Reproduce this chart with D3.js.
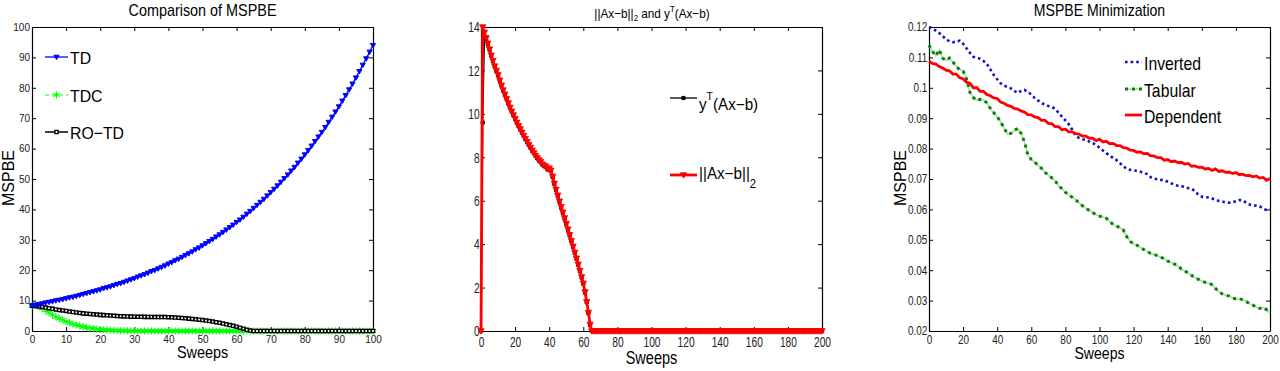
<!DOCTYPE html>
<html>
<head>
<meta charset="utf-8">
<script src="https://cdn.jsdelivr.net/npm/d3@7"></script>
<style>
  body { margin: 0; background: #fff; }
  svg { display: block; font-family: "Liberation Sans", Arial, sans-serif; }
  text { white-space: pre; }
</style>
</head>
<body>
<svg id="chart" width="1280" height="371"></svg>
<script>
// ---- panel 1: Comparison of MSPBE (sweeps 0..100) ----
const sweeps100 = d3.range(0, 101);
const tdValues = [
  8.4, 8.6, 8.8, 9.0, 9.3, 9.5, 9.7, 10.0, 10.2, 10.4,
  10.7, 11.0, 11.2, 11.5, 11.8, 12.1, 12.4, 12.7, 13.0, 13.3,
  13.6, 14.0, 14.3, 14.6, 15.0, 15.4, 15.7, 16.1, 16.5, 16.9,
  17.3, 17.8, 18.2, 18.6, 19.1, 19.6, 20.0, 20.5, 21.0, 21.5,
  22.1, 22.6, 23.2, 23.7, 24.3, 24.9, 25.5, 26.1, 26.8, 27.4,
  28.1, 28.8, 29.5, 30.2, 31.0, 31.7, 32.5, 33.3, 34.1, 34.9,
  35.8, 36.6, 37.5, 38.5, 39.4, 40.4, 41.4, 42.4, 43.4, 44.5,
  45.6, 46.7, 47.8, 49.0, 50.2, 51.4, 52.7, 53.9, 55.3, 56.6,
  58.0, 59.4, 60.9, 62.4, 63.9, 65.4, 67.0, 68.7, 70.4, 72.1,
  73.8, 75.7, 77.5, 79.4, 81.3, 83.3, 85.4, 87.5, 89.6, 91.8,
  94.0
];
const tdcValues = [
  8.3, 8.4, 8.1, 7.5, 6.8, 6.0, 5.3, 4.7, 4.1, 3.6,
  3.1, 2.7, 2.3, 2.0, 1.7, 1.4, 1.15, 0.95, 0.8, 0.65,
  0.52, 0.42, 0.34, 0.27, 0.21, 0.16, 0.12, 0.09, 0.07, 0.05,
  0.04, 0.03, 0.02, 0.02, 0.01, 0.01, 0.01, 0, 0, 0,
  0, 0, 0, 0, 0, 0, 0, 0, 0, 0,
  0, 0, 0, 0, 0, 0, 0, 0, 0, 0,
  0, 0, 0, 0, 0, 0, 0, 0, 0, 0,
  0, 0, 0, 0, 0, 0, 0, 0, 0, 0,
  0, 0, 0, 0, 0, 0, 0, 0, 0, 0,
  0, 0, 0, 0, 0, 0, 0, 0, 0, 0,
  0
];
const rotdValues = [
  8.3, 8.2, 8.1, 7.9, 7.7, 7.5, 7.3, 7.1, 6.9, 6.75,
  6.6, 6.4, 6.25, 6.1, 5.95, 5.8, 5.7, 5.6, 5.5, 5.4,
  5.3, 5.22, 5.15, 5.08, 5.0, 4.93, 4.87, 4.82, 4.77, 4.73,
  4.7, 4.68, 4.66, 4.64, 4.62, 4.61, 4.6, 4.6, 4.6, 4.58,
  4.55, 4.5, 4.43, 4.35, 4.27, 4.18, 4.07, 3.96, 3.84, 3.72,
  3.6, 3.45, 3.28, 3.1, 2.9, 2.7, 2.45, 2.2, 1.95, 1.7,
  1.4, 1.1, 0.75, 0.4, 0.15, 0, 0, 0, 0, 0,
  0, 0, 0, 0, 0, 0, 0, 0, 0, 0,
  0, 0, 0, 0, 0, 0, 0, 0, 0, 0,
  0, 0, 0, 0, 0, 0, 0, 0, 0, 0,
  0
];
const p1Names = ['TD', 'TDC', 'RO\u2212TD'];
const p1XTicks = [0, 10, 20, 30, 40, 50, 60, 70, 80, 90, 100];
const p1YTicks = [0, 10, 20, 30, 40, 50, 60, 70, 80, 90, 100];

// ---- panel 2: ||Ax-b||_2 and y^T(Ax-b) (sweeps 0..200) ----
const sweeps200 = d3.range(0, 201);
const normValues = [
  0, 14.0, 13.75, 13.5, 13.25, 12.98, 12.7, 12.45, 12.2, 12.0,
  11.8, 11.55, 11.32, 11.1, 10.9, 10.7, 10.5, 10.3, 10.12, 9.95,
  9.78, 9.6, 9.45, 9.3, 9.15, 9.0, 8.86, 8.72, 8.58, 8.45,
  8.32, 8.2, 8.08, 7.97, 7.87, 7.8, 7.68, 7.62, 7.58, 7.46,
  7.5, 7.4, 7.12, 6.8, 6.52, 6.25, 5.98, 5.72, 5.47, 5.21,
  4.95, 4.69, 4.43, 4.16, 3.9, 3.62, 3.35, 3.07, 2.78, 2.49,
  2.2, 1.8, 1.35, 0.85, 0.3, 0, 0, 0, 0, 0,
  0, 0, 0, 0, 0, 0, 0, 0, 0, 0,
  0, 0, 0, 0, 0, 0, 0, 0, 0, 0,
  0, 0, 0, 0, 0, 0, 0, 0, 0, 0,
  0, 0, 0, 0, 0, 0, 0, 0, 0, 0,
  0, 0, 0, 0, 0, 0, 0, 0, 0, 0,
  0, 0, 0, 0, 0, 0, 0, 0, 0, 0,
  0, 0, 0, 0, 0, 0, 0, 0, 0, 0,
  0, 0, 0, 0, 0, 0, 0, 0, 0, 0,
  0, 0, 0, 0, 0, 0, 0, 0, 0, 0,
  0, 0, 0, 0, 0, 0, 0, 0, 0, 0,
  0, 0, 0, 0, 0, 0, 0, 0, 0, 0,
  0, 0, 0, 0, 0, 0, 0, 0, 0, 0,
  0, 0, 0, 0, 0, 0, 0, 0, 0, 0,
  0
];
const innerValues = [
  0, 9.6, 13.4, 13.45, 13.2, 12.95, 12.68, 12.43, 12.18, 11.97,
  11.78, 11.53, 11.3, 11.08, 10.88, 10.68, 10.48, 10.28, 10.1, 9.93,
  9.76, 9.58, 9.43, 9.28, 9.13, 8.98, 8.84, 8.7, 8.56, 8.43,
  8.3, 8.18, 8.06, 7.95, 7.85, 7.77, 7.66, 7.6, 7.55, 7.44,
  7.47, 7.37, 7.08, 6.77, 6.49, 6.22, 5.95, 5.69, 5.44, 5.18,
  4.92, 4.66, 4.4, 4.13, 3.87, 3.59, 3.32, 3.04, 2.75, 2.46,
  2.17, 1.77, 1.32, 0.82, 0.27, 0, 0, 0, 0, 0,
  0, 0, 0, 0, 0, 0, 0, 0, 0, 0,
  0, 0, 0, 0, 0, 0, 0, 0, 0, 0,
  0, 0, 0, 0, 0, 0, 0, 0, 0, 0,
  0, 0, 0, 0, 0, 0, 0, 0, 0, 0,
  0, 0, 0, 0, 0, 0, 0, 0, 0, 0,
  0, 0, 0, 0, 0, 0, 0, 0, 0, 0,
  0, 0, 0, 0, 0, 0, 0, 0, 0, 0,
  0, 0, 0, 0, 0, 0, 0, 0, 0, 0,
  0, 0, 0, 0, 0, 0, 0, 0, 0, 0,
  0, 0, 0, 0, 0, 0, 0, 0, 0, 0,
  0, 0, 0, 0, 0, 0, 0, 0, 0, 0,
  0, 0, 0, 0, 0, 0, 0, 0, 0, 0,
  0, 0, 0, 0, 0, 0, 0, 0, 0, 0,
  0
];
const p2XTicks = [0, 20, 40, 60, 80, 100, 120, 140, 160, 180, 200];
const p2YTicks = [0, 2, 4, 6, 8, 10, 12, 14];

// ---- panel 3: MSPBE Minimization (every 2 sweeps, 0..200) ----
const sweepsBy2 = d3.range(0, 201, 2);
const invertedValues = [
  0.1200, 0.1195, 0.1188, 0.1180, 0.1170, 0.1160, 0.1153, 0.1150, 0.1152, 0.1155,
  0.1145, 0.1130, 0.1115, 0.1102, 0.1098, 0.1096, 0.1088, 0.1078, 0.1060, 0.1042,
  0.1028, 0.1015, 0.1007, 0.1003, 0.0998, 0.0990, 0.0983, 0.0990, 0.0993, 0.0986,
  0.0978, 0.0966, 0.0958, 0.0950, 0.0944, 0.0940, 0.0938, 0.0930, 0.0918, 0.0905,
  0.0893, 0.0880, 0.0862, 0.0842, 0.0835, 0.0831, 0.0828, 0.0823, 0.0818, 0.0812,
  0.0803, 0.0794, 0.0785, 0.0777, 0.0769, 0.0762, 0.0752, 0.0742, 0.0734, 0.0730,
  0.0728, 0.0727, 0.0724, 0.0720, 0.0716, 0.0706, 0.0701, 0.0699, 0.0697, 0.0696,
  0.0691, 0.0686, 0.0681, 0.0678, 0.0677, 0.0673, 0.0670, 0.0668, 0.0660, 0.0648,
  0.0642, 0.0640, 0.0639, 0.0636, 0.0632, 0.0628, 0.0626, 0.0623, 0.0622, 0.0623,
  0.0627, 0.0631, 0.0630, 0.0622, 0.0616, 0.0614, 0.0612, 0.0610, 0.0602, 0.0598,
  0.0600
];
const tabularValues = [
  0.1140, 0.1120, 0.1105, 0.1125, 0.1098, 0.1090, 0.1098, 0.1085, 0.1070, 0.1060,
  0.1055, 0.1030, 0.0985, 0.0968, 0.0958, 0.0962, 0.0960, 0.0950, 0.0932, 0.0918,
  0.0905, 0.0888, 0.0868, 0.0848, 0.0850, 0.0860, 0.0866, 0.0850, 0.0822, 0.0780,
  0.0764, 0.0755, 0.0745, 0.0735, 0.0722, 0.0712, 0.0704, 0.0694, 0.0678, 0.0668,
  0.0656, 0.0648, 0.0640, 0.0632, 0.0622, 0.0612, 0.0603, 0.0597, 0.0590, 0.0582,
  0.0578, 0.0575, 0.0571, 0.0560, 0.0550, 0.0545, 0.0540, 0.0532, 0.0510, 0.0495,
  0.0486, 0.0482, 0.0475, 0.0468, 0.0462, 0.0455, 0.0452, 0.0448, 0.0442, 0.0438,
  0.0430, 0.0426, 0.0420, 0.0414, 0.0404, 0.0398, 0.0390, 0.0383, 0.0376, 0.0370,
  0.0364, 0.0360, 0.0358, 0.0352, 0.0340, 0.0330, 0.0322, 0.0318, 0.0315, 0.0308,
  0.0306, 0.0307, 0.0302, 0.0297, 0.0290, 0.0285, 0.0278, 0.0274, 0.0278, 0.0270,
  0.0258
];
const dependentValues = [
  0.1088, 0.1080, 0.1078, 0.1070, 0.1065, 0.1058, 0.1056, 0.1045, 0.1045, 0.1033,
  0.1030, 0.1018, 0.1015, 0.1000, 0.1001, 0.0988, 0.0988, 0.0978, 0.0974, 0.0967,
  0.0965, 0.0953, 0.0949, 0.0942, 0.0939, 0.0932, 0.0930, 0.0924, 0.0920, 0.0912,
  0.0911, 0.0904, 0.0902, 0.0893, 0.0893, 0.0883, 0.0882, 0.0872, 0.0872, 0.0862,
  0.0864, 0.0855, 0.0855, 0.0849, 0.0848, 0.0841, 0.0841, 0.0834, 0.0834, 0.0826,
  0.0831, 0.0822, 0.0824, 0.0816, 0.0817, 0.0810, 0.0810, 0.0803, 0.0802, 0.0795,
  0.0794, 0.0788, 0.0789, 0.0783, 0.0784, 0.0776, 0.0776, 0.0770, 0.0770, 0.0762,
  0.0764, 0.0757, 0.0759, 0.0754, 0.0755, 0.0749, 0.0751, 0.0742, 0.0743, 0.0738,
  0.0739, 0.0733, 0.0735, 0.0728, 0.0733, 0.0725, 0.0727, 0.0722, 0.0723, 0.0718,
  0.0721, 0.0714, 0.0716, 0.0711, 0.0712, 0.0707, 0.0710, 0.0703, 0.0705, 0.0696,
  0.0702
];
const p3Names = ['Inverted', 'Tabular', 'Dependent'];
const p3XTicks = [0, 20, 40, 60, 80, 100, 120, 140, 160, 180, 200];
const p3YTicks = [0.02, 0.03, 0.04, 0.05, 0.06, 0.07, 0.08, 0.09, 0.1, 0.11, 0.12];

// ---------------------------------------------------------------
const svg = d3.select('#chart');
const plotTop = 27, plotW = 341, plotH = 304;
const FONT = '"Liberation Sans", Arial, sans-serif';

function label(parent, x, y, str, size, sx, anchor, rotate) {
  return parent.append('text')
    .attr('transform', `translate(${x},${y})${rotate ? ' rotate(' + rotate + ')' : ''} scale(${sx},1)`)
    .attr('text-anchor', anchor || 'start')
    .style('font-size', size + 'px')
    .attr('fill', '#000')
    .text(str);
}

// axes box with inward ticks on every side
function frame(left, xDomain, yDomain, xTicks, yTicks, yFmt, tickSize, tickSx, xPad) {
  const g = svg.append('g').attr('transform', `translate(${left},${plotTop})`);
  const x = d3.scaleLinear().domain(xDomain).range([0, plotW]);
  const y = d3.scaleLinear().domain(yDomain).range([plotH, 0]);

  const styleAxis = sel => {
    sel.attr('font-family', FONT).attr('font-size', null);
    sel.select('.domain').attr('stroke', '#000').attr('stroke-width', 1.2);
    sel.selectAll('.tick line').attr('stroke', '#000');
    sel.selectAll('.tick text')
      .attr('fill', '#222')
      .style('font-size', tickSize + 'px')
      .attr('transform', `scale(${tickSx},1)`);
  };

  g.append('g').attr('transform', `translate(0,${plotH})`)
    .call(d3.axisBottom(x).tickValues(xTicks).tickFormat(d3.format('d'))
      .tickSizeInner(-4).tickSizeOuter(0).tickPadding(xPad))
    .call(styleAxis);
  g.append('g')
    .call(d3.axisLeft(y).tickValues(yTicks).tickFormat(yFmt)
      .tickSizeInner(-4).tickSizeOuter(0).tickPadding(2))
    .call(styleAxis);
  g.append('g')
    .call(d3.axisTop(x).tickValues(xTicks).tickFormat('').tickSizeInner(-4).tickSizeOuter(0))
    .call(styleAxis);
  g.append('g').attr('transform', `translate(${plotW},0)`)
    .call(d3.axisRight(y).tickValues(yTicks).tickFormat('').tickSizeInner(-4).tickSizeOuter(0))
    .call(styleAxis);
  return { g, x, y };
}

const triDown = s => `M${-s},${-s * 0.7}L${s},${-s * 0.7}L0,${s}Z`;
const square = d3.symbol(d3.symbolSquare, 10)();
const aster = d3.symbol(d3.symbolAsterisk, 34)();

function series(p, xs, ys, opt) {
  const pts = xs.map((d, i) => [d, ys[i]]);
  const line = d3.line().x(d => p.x(d[0])).y(d => p.y(d[1]));
  p.g.append('path').datum(pts)
    .attr('d', line)
    .attr('fill', 'none')
    .attr('stroke', opt.color)
    .attr('stroke-width', opt.width)
    .attr('stroke-dasharray', opt.dash || null)
    .attr('stroke-linecap', opt.cap || 'butt');
  if (opt.marker) {
    p.g.append('g').selectAll('path').data(pts).join('path')
      .attr('transform', d => `translate(${p.x(d[0])},${p.y(d[1])})`)
      .attr('d', opt.marker)
      .attr('fill', opt.markerFill || opt.color)
      .attr('stroke', opt.color)
      .attr('stroke-width', opt.markerStroke || 1);
  }
}

function legendLine(x0, x1, y, opt) {
  svg.append('line').attr('x1', x0).attr('x2', x1).attr('y1', y).attr('y2', y)
    .attr('stroke', opt.color).attr('stroke-width', opt.width)
    .attr('stroke-dasharray', opt.dash || null)
    .attr('stroke-linecap', opt.cap || 'butt');
  if (opt.marker) {
    svg.append('path').attr('transform', `translate(${(x0 + x1) / 2},${y})`)
      .attr('d', opt.marker)
      .attr('fill', opt.markerFill || opt.color)
      .attr('stroke', opt.color)
      .attr('stroke-width', opt.markerStroke || 1);
  }
}

// ---------------- panel 1 ----------------
const p1 = frame(32, [0, 100], [0, 100], p1XTicks, p1YTicks, d3.format('d'), 10, 1, 5);
const tdStyle = { color: '#0000ff', width: 1.3, marker: triDown(2.6) };
const tdcStyle = { color: '#00ff00', width: 1.2, dash: '4,3', marker: aster, markerStroke: 1.1 };
const rotdStyle = { color: '#000', width: 1.5, marker: square, markerFill: '#fff', markerStroke: 1.4 };
series(p1, sweeps100, tdcValues, tdcStyle);
series(p1, sweeps100, rotdValues, rotdStyle);
series(p1, sweeps100, tdValues, tdStyle);

label(svg, 202.5, 16, 'Comparison of MSPBE', 16, 0.9, 'middle');
label(svg, 202.5, 358, 'Sweeps', 16, 0.9, 'middle');
label(svg, 13.5, 178, 'MSPBE', 16, 1, 'middle', -90);

[tdStyle, tdcStyle, rotdStyle].forEach((st, i) => {
  const ly = [57, 95, 132][i];
  legendLine(45, 68, ly, st);
  label(svg, 70, ly + 6.5, p1Names[i], 17, 0.93, 'start');
});

// ---------------- panel 2 ----------------
const p2 = frame(481, [0, 200], [0, 14], p2XTicks, p2YTicks, d3.format('d'), 15, 0.68, 5);
const innerStyle = { color: '#000', width: 1.3, marker: square, markerFill: '#000' };
const normStyle = { color: '#ff0000', width: 2.8, marker: triDown(3.2), markerStroke: 0.8 };
series(p2, sweeps200, innerValues, innerStyle);
series(p2, sweeps200, normValues, normStyle);

{
  const t = svg.append('text').attr('transform', 'translate(652,18) scale(0.87,1)')
    .attr('text-anchor', 'middle').style('font-size', '13.5px');
  t.append('tspan').text('||Ax\u2212b||');
  t.append('tspan').attr('dy', 3).style('font-size', '9px').text('2');
  t.append('tspan').attr('dy', -3).text(' and y');
  t.append('tspan').attr('dy', -6).style('font-size', '9px').text('T');
  t.append('tspan').attr('dy', 6).text('(Ax\u2212b)');
}
label(svg, 651.5, 364, 'Sweeps', 17.5, 0.83, 'middle');

legendLine(670, 697, 98, innerStyle);
{
  const t = svg.append('text').attr('transform', 'translate(699,110) scale(0.95,1)')
    .style('font-size', '16px');
  t.append('tspan').text('y');
  t.append('tspan').attr('dy', -10).style('font-size', '11px').text('T');
  t.append('tspan').attr('dy', 10).text('(Ax\u2212b)');
}
legendLine(670, 697, 175, normStyle);
{
  const t = svg.append('text').attr('transform', 'translate(699,179) scale(0.95,1)')
    .style('font-size', '16px');
  t.append('tspan').text('||Ax\u2212b||');
  t.append('tspan').attr('dy', 9).style('font-size', '12px').text('2');
}

// ---------------- panel 3 ----------------
const p3 = frame(929, [0, 200], [0.02, 0.12], p3XTicks, p3YTicks, d3.format('~g'), 12, 0.83, 4);
const invStyle = { color: '#1010d0', width: 2.6, dash: '2.6,3' };
const tabBase = { color: '#9ee09e', width: 1.6 };
const tabStyle = { color: '#0b7d0b', width: 3, dash: '3,4' };
const depStyle = { color: '#ff0000', width: 2.8 };
series(p3, sweepsBy2, invertedValues, invStyle);
series(p3, sweepsBy2, tabularValues, tabBase);
series(p3, sweepsBy2, tabularValues, tabStyle);
series(p3, sweepsBy2, dependentValues, depStyle);

label(svg, 1099.5, 16, 'MSPBE Minimization', 16, 0.88, 'middle');
label(svg, 1099.5, 359, 'Sweeps', 16, 0.88, 'middle');
label(svg, 906, 178, 'MSPBE', 16, 1, 'middle', -90);

[[invStyle], [tabBase, tabStyle], [depStyle]].forEach((sts, i) => {
  const ly = [62, 89, 115][i];
  sts.forEach(st => legendLine(1125, 1142, ly, st));
  label(svg, 1144, ly + 7.5, p3Names[i], 19, 0.83, 'start');
});
</script>
</body>
</html>
